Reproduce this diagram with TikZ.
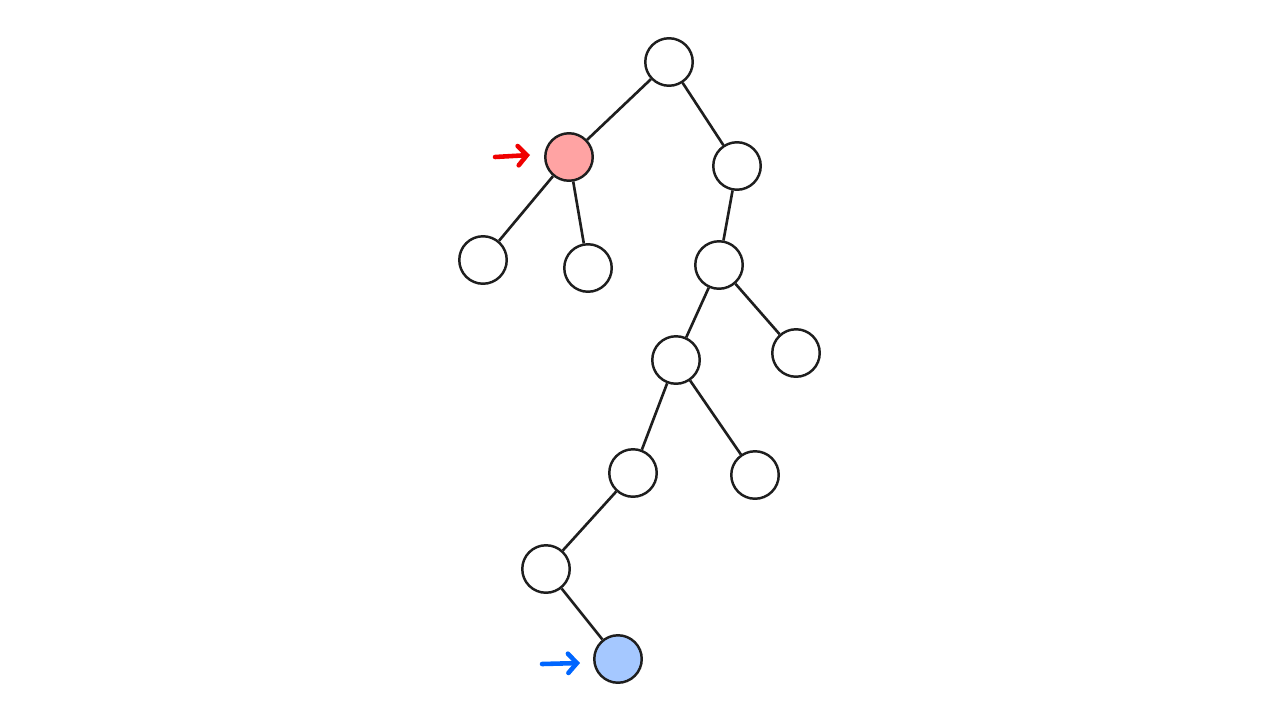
\documentclass[tikz,border=0pt]{standalone}
\usetikzlibrary{arrows.meta}
\definecolor{redfill}{HTML}{FFA3A3}
\definecolor{bluefill}{HTML}{A5C8FF}
\definecolor{redarrow}{HTML}{F00000}
\definecolor{bluearrow}{HTML}{0066FF}
\definecolor{ink}{HTML}{1E1E1E}
\begin{document}
\begin{tikzpicture}[x=0.02cm,y=-0.02cm,
  tnode/.style={circle,draw=ink,line width=1.4pt,fill=white,minimum size=0.95cm,inner sep=0pt},
  edge/.style={draw=ink,line width=1.5pt},
  marker/.style={line width=2.6pt,line cap=round,-{Straight Barb[length=5pt,width=11pt,line cap=round]}}]
\useasboundingbox (0,0) rectangle (1280,720);
\node[tnode] (root) at (669,62) {};
\node[tnode,fill=redfill] (red) at (569,157) {};
\node[tnode] (r1) at (737,166) {};
\node[tnode] (ll) at (483,260) {};
\node[tnode] (lm) at (588,268) {};
\node[tnode] (n2) at (719,265) {};
\node[tnode] (n3) at (676,360) {};
\node[tnode] (n2r) at (796,353) {};
\node[tnode] (n4) at (633,473) {};
\node[tnode] (n3r) at (755,475) {};
\node[tnode] (n5) at (546,569) {};
\node[tnode,fill=bluefill] (blue) at (618,659) {};
\draw[edge] (root) -- (red);
\draw[edge] (root) -- (r1);
\draw[edge] (red) -- (ll);
\draw[edge] (red) -- (lm);
\draw[edge] (r1) -- (n2);
\draw[edge] (n2) -- (n3);
\draw[edge] (n2) -- (n2r);
\draw[edge] (n3) -- (n4);
\draw[edge] (n3) -- (n3r);
\draw[edge] (n4) -- (n5);
\draw[edge] (n5) -- (blue);
\coordinate (ra0) at (495,157);
\coordinate (ra1) at (530,155);
\coordinate (ba0) at (542,664);
\coordinate (ba1) at (580,663);
\draw[marker,draw=redarrow] (ra0) -- (ra1);
\draw[marker,draw=bluearrow] (ba0) -- (ba1);
\end{tikzpicture}
\end{document}
